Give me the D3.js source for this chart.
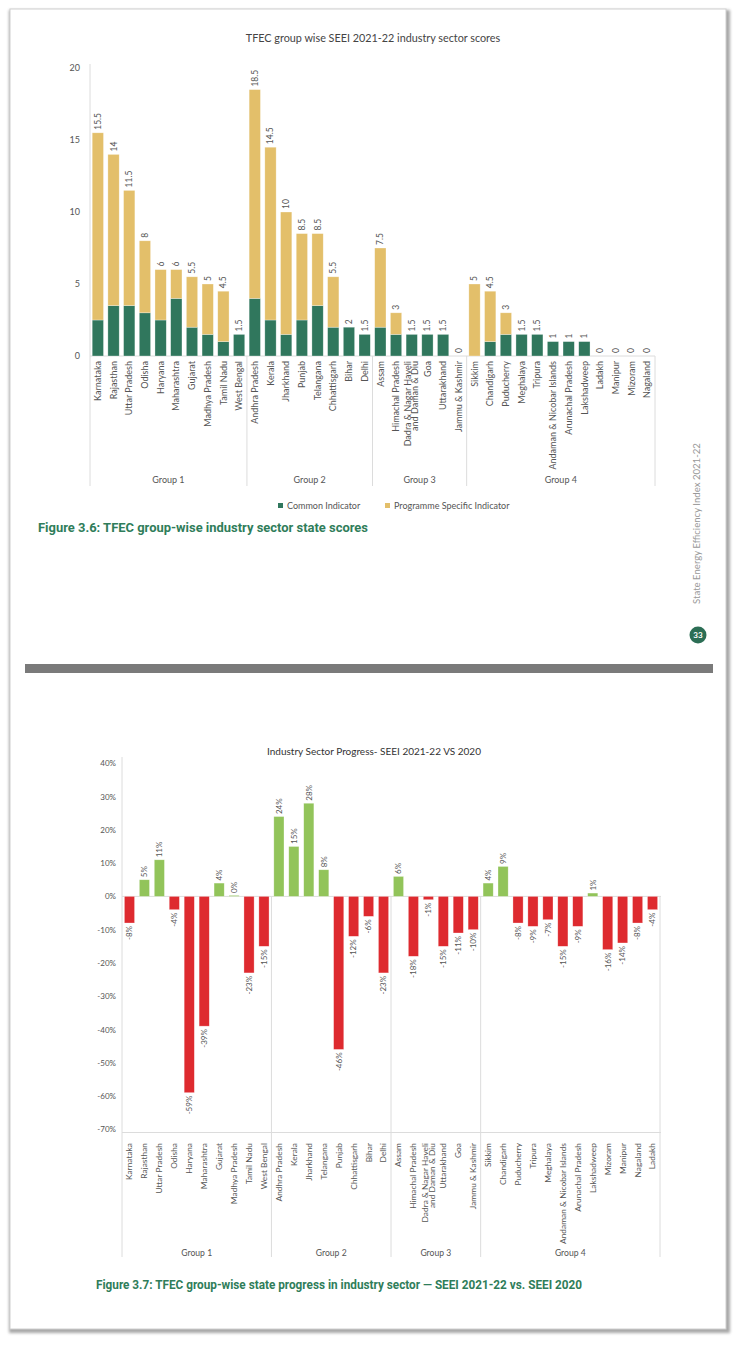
<!DOCTYPE html>
<html><head><meta charset="utf-8">
<script src="https://cdn.jsdelivr.net/npm/d3@7"></script>
<style>
body{margin:0;background:#fff;}
svg{display:block;font-family:Lato,"Open Sans",sans-serif;}
</style>
</head><body>
<svg id="c" width="738" height="1346"></svg>
<script>
// ---------- DATA: Figure 3.6 ----------
const topTitle = "TFEC group wise SEEI 2021-22 industry sector scores";
const topCategories = ["Karnataka","Rajasthan","Uttar Pradesh","Odisha","Haryana","Maharashtra","Gujarat","Madhya Pradesh","Tamil Nadu","West Bengal",
  "Andhra Pradesh","Kerala","Jharkhand","Punjab","Telangana","Chhattisgarh","Bihar","Delhi",
  "Assam","Himachal Pradesh","Dadra & Nagar Haveli|and Daman & Diu","Goa","Uttarakhand","Jammu & Kashmir",
  "Sikkim","Chandigarh","Puducherry","Meghalaya","Tripura","Andaman & Nicobar Islands","Arunachal Pradesh","Lakshadweep","Ladakh","Manipur","Mizoram","Nagaland"];
const groupNames = ["Group 1","Group 2","Group 3","Group 4"];
const topGroupSizes = [10,8,6,12];
const topCommon =     [2.5,3.5,3.5,3,2.5,4,2,1.5,1,1.5, 4,2.5,1.5,2.5,3.5,2,2,1.5, 2,1.5,1.5,1.5,1.5,0, 0,1,1.5,1.5,1.5,1,1,1,0,0,0,0];
const topProgramme =  [13,10.5,8,5,3.5,2,3.5,3.5,3.5,0, 14.5,12,8.5,6,5,3.5,0,0, 5.5,1.5,0,0,0,0, 5,3.5,1.5,0,0,0,0,0,0,0,0,0];
const topTotalLabels = ["15.5","14","11.5","8","6","6","5.5","5","4.5","1.5", "18.5","14.5","10","8.5","8.5","5.5","2","1.5", "7.5","3","1.5","1.5","1.5","0", "5","4.5","3","1.5","1.5","1","1","1","0","0","0","0"];
const topYTicks = [0,5,10,15,20];
const legendLabels = ["Common Indicator","Programme Specific Indicator"];
const topCaption = "Figure 3.6: TFEC group-wise industry sector state scores";

// ---------- DATA: Figure 3.7 ----------
const botTitle = "Industry Sector Progress- SEEI 2021-22 VS 2020";
const botCategories = ["Karnataka","Rajasthan","Uttar Pradesh","Odisha","Haryana","Maharashtra","Gujarat","Madhya Pradesh","Tamil Nadu","West Bengal",
  "Andhra Pradesh","Kerala","Jharkhand","Telangana","Punjab","Chhattisgarh","Bihar","Delhi",
  "Assam","Himachal Pradesh","Dadra & Nagar Haveli|and Daman & Diu","Uttarakhand","Goa","Jammu & Kashmir",
  "Sikkim","Chandigarh","Puducherry","Tripura","Meghalaya","Andaman & Nicobar Islands","Arunachal Pradesh","Lakshadweep","Mizoram","Manipur","Nagaland","Ladakh"];
const botGroupSizes = [10,8,6,12];
const botValues = [-8,5,11,-4,-59,-39,4,0.3,-23,-15, 24,15,28,8,-46,-12,-6,-23, 6,-18,-1,-15,-11,-10, 4,9,-8,-9,-7,-15,-9,1,-16,-14,-8,-4];
const botLabels = ["-8%","5%","11%","-4%","-59%","-39%","4%","0%","-23%","-15%", "24%","15%","28%","8%","-46%","-12%","-6%","-23%", "6%","-18%","-1%","-15%","-11%","-10%", "4%","9%","-8%","-9%","-7%","-15%","-9%","1%","-16%","-14%","-8%","-4%"];
const botYTicks = [40,30,20,10,0,-10,-20,-30,-40,-50,-60,-70];
const botCaption = "Figure 3.7: TFEC group-wise state progress in industry sector \u2014 SEEI 2021-22 vs. SEEI 2020";

// ---------- STYLE ----------
const GREEN = "#30775d", YELLOW = "#e3bf6a", POS = "#92c45a", NEG = "#de2a2f";
const TXT = "#555", LINE = "#dcdcdc", CAP = "#2f7d5a";

const svg = d3.select("#c");
const defs = svg.append("defs");
defs.append("filter").attr("id","sh").attr("x","-5%").attr("y","-5%").attr("width","110%").attr("height","110%")
  .append("feGaussianBlur").attr("stdDeviation",1.6);

// page frame
svg.append("rect").attr("x",9).attr("y",10).attr("width",721).attr("height",1323).attr("fill","#a8a8a8").attr("filter","url(#sh)");
svg.append("rect").attr("x",10).attr("y",9).attr("width",716).attr("height",1320).attr("fill","#fff").attr("stroke","#cfcfcf").attr("stroke-width",1);
// page separator
svg.append("rect").attr("x",25).attr("y",664).attr("width",688).attr("height",9).attr("fill","#7a7a7a");
// side text & page number
svg.append("text").attr("transform","translate(700,604) rotate(-90)").attr("font-size",9.6).attr("fill","#999").text("State Energy Efficiency Index 2021-22");
svg.append("circle").attr("cx",698).attr("cy",635).attr("r",8.5).attr("fill","#2c6e55");
svg.append("text").attr("x",698).attr("y",638).attr("text-anchor","middle").attr("font-size",8).attr("font-weight","bold").attr("fill","#fff").text("33");

function rotLabel(g, x, y, anchor, size, txt, fill){
  const parts = txt.split("|");
  const t = g.append("text").attr("transform",`translate(${x},${y}) rotate(-90)`)
    .attr("text-anchor",anchor).attr("font-size",size).attr("fill",fill||TXT);
  if(parts.length===1){ t.attr("dy","0.35em").text(txt); }
  else {
    parts.forEach((p,i)=>{ t.append("tspan").attr("x",0).attr("dy", i===0 ? "-0.1em" : "0.85em").text(p); });
  }
  return t;
}
function boundaries(scale, sizes){
  const st = scale.step(), r0 = scale.range()[0];
  const b=[]; let c=0; sizes.forEach(s=>{ b.push([r0+c*st, r0+(c+s)*st]); c+=s; });
  return b;
}

// ---------- TOP CHART ----------
{
  const g = svg.append("g");
  const x = d3.scaleBand().domain(topCategories).range([90,655]).paddingInner(0.28).paddingOuter(0.14);
  const y = d3.scaleLinear().domain([0,20]).range([356,68]);
  g.append("text").attr("x",373).attr("y",42).attr("text-anchor","middle").attr("font-size",10.8).attr("fill","#444").text(topTitle);

  const ax = g.append("g").attr("transform","translate(90,0)").call(d3.axisLeft(y).tickValues(topYTicks).tickSize(0).tickPadding(10));
  ax.select(".domain").remove();
  ax.selectAll("text").attr("font-size",9).attr("fill",TXT).attr("font-family","Lato");

  g.append("line").attr("x1",90).attr("x2",90).attr("y1",64).attr("y2",486).attr("stroke",LINE);
  g.append("line").attr("x1",90).attr("x2",655).attr("y1",y(0)).attr("y2",y(0)).attr("stroke",LINE);

  const rows = topCategories.map((c,i)=>({cat:c, common:topCommon[i], programme:topProgramme[i]}));
  const stack = d3.stack().keys(["common","programme"])(rows);
  const colors = [GREEN, YELLOW];
  stack.forEach((layer,li)=>{
    g.append("g").selectAll("rect").data(layer.filter(d=>d[1]-d[0]>0)).join("rect")
      .attr("x",d=>x(d.data.cat)).attr("width",x.bandwidth())
      .attr("y",d=>y(d[1])).attr("height",d=>y(d[0])-y(d[1]))
      .attr("fill",colors[li]).attr("stroke","#fff").attr("stroke-opacity",0.5).attr("stroke-width",0.6);
  });
  rows.forEach((r,i)=>{
    rotLabel(g, x(r.cat)+x.bandwidth()/2, y(r.common+r.programme)-3, "start", 8.5, topTotalLabels[i]);
    rotLabel(g, x(r.cat)+x.bandwidth()/2, 361, "end", 9, r.cat);
  });
  const b = boundaries(x, topGroupSizes);
  b.forEach((bb,i)=>{
    g.append("line").attr("x1",bb[1]).attr("x2",bb[1]).attr("y1",y(0)).attr("y2",486).attr("stroke",LINE);
    g.append("text").attr("x",(bb[0]+bb[1])/2).attr("y",483).attr("text-anchor","middle").attr("font-size",9).attr("fill",TXT).text(groupNames[i]);
  });
  // legend
  const lx = [278,385];
  legendLabels.forEach((l,i)=>{
    g.append("rect").attr("x",lx[i]).attr("y",503).attr("width",5).attr("height",5).attr("fill",colors[i]);
    g.append("text").attr("x",lx[i]+9).attr("y",508.5).attr("font-size",9).attr("fill",TXT).text(l);
  });
  g.append("text").attr("x",38).attr("y",532).attr("font-family","Roboto").attr("font-weight","bold").attr("font-size",12)
    .attr("fill",CAP).attr("textLength",330).attr("lengthAdjust","spacingAndGlyphs").text(topCaption);
}

// ---------- BOTTOM CHART ----------
{
  const g = svg.append("g");
  const x = d3.scaleBand().domain(botCategories).range([122,660]).paddingInner(0.32).paddingOuter(0.16);
  const y = d3.scaleLinear().domain([-70,40]).range([1129.3,763.3]);
  g.append("text").attr("x",374).attr("y",755).attr("text-anchor","middle").attr("font-size",10).attr("fill","#333").text(botTitle);

  const ax = g.append("g").attr("transform","translate(122,0)").call(d3.axisLeft(y).tickValues(botYTicks).tickSize(0).tickPadding(6).tickFormat(d=>d+"%"));
  ax.select(".domain").remove();
  ax.selectAll("text").attr("font-size",8).attr("fill",TXT).attr("font-family","Lato");

  g.append("line").attr("x1",122).attr("x2",122).attr("y1",757).attr("y2",1257).attr("stroke",LINE);
  g.append("line").attr("x1",122).attr("x2",661).attr("y1",y(0)).attr("y2",y(0)).attr("stroke",LINE);
  g.append("line").attr("x1",122).attr("x2",661).attr("y1",1132.5).attr("y2",1132.5).attr("stroke",LINE);

  const b = boundaries(x, botGroupSizes);
  b.forEach((bb,i)=>{
    g.append("line").attr("x1",bb[1]).attr("x2",bb[1]).attr("y1",y(0)).attr("y2",1257).attr("stroke",LINE);
    g.append("text").attr("x",(bb[0]+bb[1])/2).attr("y",1256).attr("text-anchor","middle").attr("font-size",8.6).attr("fill",TXT).text(groupNames[i]);
  });

  g.append("g").selectAll("rect").data(botCategories.map((c,i)=>({c, v:botValues[i]}))).join("rect")
    .attr("x",d=>x(d.c)).attr("width",x.bandwidth())
    .attr("y",d=>Math.min(y(d.v),y(0))).attr("height",d=>Math.abs(y(d.v)-y(0)))
    .attr("fill",d=>d.v>=0?POS:NEG).attr("stroke","#fff").attr("stroke-opacity",0.5).attr("stroke-width",0.6);

  botCategories.forEach((c,i)=>{
    const v = botValues[i], cx = x(c)+x.bandwidth()/2;
    if(v>=0) rotLabel(g, cx, y(v)-2.5, "start", 8, botLabels[i]);
    else rotLabel(g, cx, y(v)+3, "end", 8, botLabels[i]);
    rotLabel(g, cx, 1143, "end", 8.4, c);
  });

  g.append("text").attr("x",96).attr("y",1289).attr("font-family","Roboto").attr("font-weight","bold").attr("font-size",12)
    .attr("fill",CAP).attr("textLength",486).attr("lengthAdjust","spacingAndGlyphs").text(botCaption);
}
</script>
</body></html>
